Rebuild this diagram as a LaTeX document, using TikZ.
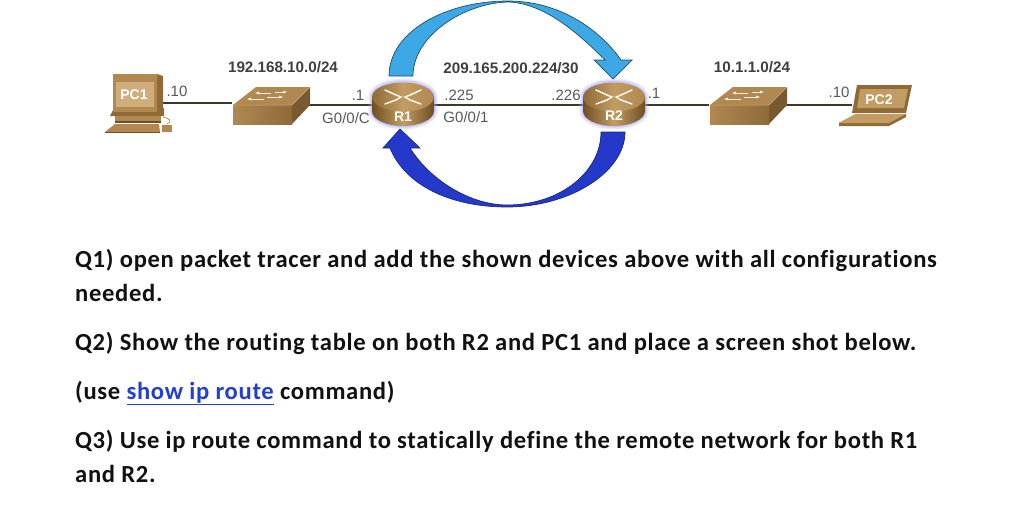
\documentclass[tikz,border=0pt]{standalone}
\usepackage{fontspec}
\setmainfont{Carlito}[LetterSpace=2.8,Ligatures=NoCommon]
\newfontfamily\arialf{Liberation Sans}
\usetikzlibrary{calc}
\definecolor{brA}{HTML}{B08850}
\definecolor{brB}{HTML}{8E6A38}
\definecolor{brC}{HTML}{6F4F24}
\definecolor{brL}{HTML}{CFAE7C}
\definecolor{brD}{HTML}{C29C62}
\definecolor{lbl}{HTML}{55585C}
\definecolor{skyA}{HTML}{3DA8E6}
\definecolor{skyE}{HTML}{1C4F66}
\definecolor{navA}{HTML}{2438CC}
\definecolor{navE}{HTML}{1B2A7A}
\definecolor{linkc}{HTML}{2240CC}
\definecolor{wire}{HTML}{3A3A28}
\definecolor{qtxt}{HTML}{111111}
\tikzset{
  x=1pt,y=-1pt,
  anchorbox/.style={inner sep=0pt,minimum width=#1,minimum height=2pt},
  wireline/.style={draw=wire,line width=1.8pt},
  netlabel/.style={font=\arialf\bfseries\fontsize{15.2}{17}\selectfont,text=black!75,inner sep=0pt,anchor=center},
  addr/.style={font=\arialf\fontsize{15}{17}\selectfont,text=lbl,inner sep=0pt,anchor=center},
  devname/.style={font=\arialf\bfseries\fontsize{14}{16}\selectfont,text=white,inner sep=0pt,anchor=center},
  qline/.style={font=\bfseries\fontsize{24.6}{28}\selectfont,text=qtxt,inner sep=0pt,anchor=base west},
  swicon/.pic={
    \fill[brA] (0,18)--(23,0)--(77,0)--(59,18)--cycle;
    \shade[left color=brA,right color=brB] (0,18) rectangle (59,37);
    \fill[brB!85!black] (59,18)--(77,0)--(77,18)--(59,37)--cycle;
    \draw[brL,line width=.5pt] (0,18)--(59,18)--(77,0);
    \draw[white!85!brA,line width=.9pt] (24,6)--(38,6) (42,5)--(52,5) (17,12)--(31,12) (34,10)--(48,10);
    \fill[white!85!brA] (22,6)--(26,4.5)--(26,7.5)--cycle (54,5)--(50,3.5)--(50,6.5)--cycle
      (14,12)--(18,10.5)--(18,13.5)--cycle (50,10)--(46,8.5)--(46,11.5)--cycle;
  },
  rticon/.pic={
    \foreach \g/\o in {4/.12,3/.16,2/.22,1/.3}
      \fill[blue!35!white,opacity=\o] (-31-\g,15) arc[start angle=180,end angle=360,x radius=31+\g,y radius=15+\g]
        -- (31+\g,29) arc[start angle=0,end angle=180,x radius=31+\g,y radius=15+\g] -- cycle;
    \shade[left color=brC,right color=brC,middle color=brD]
      (-31,15) -- (-31,29) arc[start angle=180,end angle=0,x radius=31,y radius=15] -- (31,15) -- cycle;
    \shade[left color=brB,right color=brA,middle color=brD]
      (0,15) ellipse[x radius=31,y radius=14.5];
    \draw[white,line width=1.4pt,line cap=round] (-18,8)--(-7,13) (-7,18)--(-18,22) (18,8)--(7,13) (7,18)--(18,22);
    \draw[white!90!brD,line width=1.4pt,line cap=round] (-7,13)--(-2,15)--(-7,18) (7,13)--(2,15)--(7,18);
  },
  pcicon/.pic={
    \fill[brB] (1,34)--(51,34)--(51,42)--(-3,42)--cycle;
    \fill[brA] (-8,58)--(2,50)--(46,50)--(47,58)--cycle;
    \fill[brC] (-8,58) rectangle (47,59);
    \fill[brA] (2,42) rectangle (48,47);
    \fill[brC] (2,47) rectangle (48,49);
    \fill[brB] (44,0)--(50,2)--(50,38)--(44,38)--cycle;
    \fill[brA] (0,0) rectangle (44,38);
    \fill[brL] (3,8) rectangle (41,33);
    \fill[brA] (49,51) rectangle (59,58);
    \draw[brA,line width=.7pt] (54,50) .. controls (60,47) and (56,44) .. (50,43);
  },
  lpicon/.pic={
    \fill[brB] (-13,38)--(4,29)--(54,29)--(54,32)--(37,41)--(-13,41)--cycle;
    \fill[brD] (-13,38)--(4,29)--(54,29)--(37,38)--cycle;
    \fill[brB] (0,28)--(5,0)--(60,0)--(54,28)--cycle;
    \fill[brD] (5,23)--(8,4)--(56,4)--(52,23)--cycle;
  }
}
\begin{document}
\begin{tikzpicture}
\useasboundingbox (0,0) rectangle (1024,506);
\fill[white] (0,0) rectangle (1024,506);
% anchors
\node[anchorbox=50pt] (pc1) at (138,103) {};
\node[anchorbox=59pt] (sw1) at (262,105) {};
\node[anchorbox=62pt] (r1)  at (403,105) {};
\node[anchorbox=62pt] (r2)  at (614,105) {};
\node[anchorbox=59pt] (sw2) at (739,105) {};
\node[anchorbox=60pt] (pc2) at (882,105) {};
% links
\draw[wireline] (pc1.east) -- (sw1.west |- pc1.east);
\draw[wireline] (sw1.east) -- (r1.west);
\draw[wireline,line width=1.4pt] (r1.east) -- (r2.west);
\draw[wireline] (r2.east) -- (sw2.west);
\draw[wireline] (sw2.east) -- (pc2.west);
% icons
\pic at (113,74) {pcicon};
\pic at (233,87) {swicon};
\pic at (710,87) {swicon};
\pic at (852,85) {lpicon};
\pic at (403,82) {rticon};
\pic at (614,82) {rticon};
% arrows
\coordinate (upS) at (401,76);
\coordinate (upE) at (613,79);
\coordinate (dnS) at (613,132);
\coordinate (dnE) at (400,129);
\filldraw[fill=skyA,draw=skyE,line width=.7pt]
  ($(upS)+(-12,0)$) .. controls (389,32) and (445,1) .. (508,1)
  .. controls (560,1) and (600,30) .. ($(upE)+(8,-19)$)
  -- ($(upE)+(19,-19)$) -- (upE) -- ($(upE)+(-19,-19)$) -- ($(upE)+(-8,-19)$)
  .. controls (580,35) and (545,3) .. (508,2)
  .. controls (465,3) and (413,35) .. ($(upS)+(12,0)$) -- cycle;
\filldraw[fill=navA,draw=navE,line width=.7pt]
  ($(dnS)+(12,0)$) .. controls (625,172) and (570,207) .. (507,207)
  .. controls (450,207) and (405,185) .. ($(dnE)+(-10,19)$)
  -- ($(dnE)+(-17,19)$) -- (dnE) -- ($(dnE)+(20,19)$) -- ($(dnE)+(10,19)$)
  .. controls (430,180) and (470,205) .. (507,205)
  .. controls (560,205) and (601,172) .. ($(dnS)+(-12,0)$) -- cycle;
% device names
\node[devname] (n1) at (134,95) {PC1};
\node[devname] (n2) at (879,100) {PC2};
\node[devname] (n3) at (403,117) {R1};
\node[devname] (n4) at (614,116) {R2};
% network labels
\node[netlabel] (a1) at (283,67) {192.168.10.0/24};
\node[netlabel] (a2) at (511,68) {209.165.200.224/30};
\node[netlabel] (a3) at (752,67) {10.1.1.0/24};
% addresses
\node[addr] (b1) at (177,91) {.10};
\node[addr] (b2) at (358,95) {.1};
\node[addr] (b3) at (346,118) {G0/0/C};
\node[addr] (b4) at (459,95) {.225};
\node[addr] (b5) at (466,117) {G0/0/1};
\node[addr] (b6) at (566,95) {.226};
\node[addr] (b7) at (654,93) {.1};
\node[addr] (b8) at (839,92) {.10};
% questions
\node[qline] (q1) at (75,267) {Q1) open packet tracer and add the shown devices above with all configurations};
\node[qline] (q1b) at (75,301) {needed.};
\node[qline] (q2) at (75,350) {Q2) Show the routing table on both R2 and PC1 and place a screen shot below.};
\node[qline] (q2b) at (75,399) {(use \textcolor{linkc}{\underline{show ip route}} command)};
\node[qline] (q3) at (75,448) {Q3) Use ip route command to statically define the remote network for both R1};
\node[qline] (q3b) at (75,482) {and R2.};
\end{tikzpicture}
\end{document}
